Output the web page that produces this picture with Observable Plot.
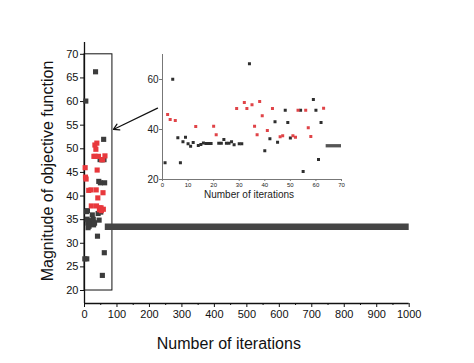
<!DOCTYPE html>
<html>
<head>
<meta charset="utf-8">
<script src="https://cdn.jsdelivr.net/npm/d3@7"></script>
<script src="https://cdn.jsdelivr.net/npm/@observablehq/plot@0.6"></script>
<style>
  body { margin: 0; background: #fff; }
  #wrap { position: relative; width: 474px; height: 363px; font-family: "Liberation Sans", Arial, sans-serif; }
  #wrap svg { position: absolute; background: transparent; }
</style>
</head>
<body>
<div id="wrap"></div>
<script>
// Iterations 1..63 (early search phase), objective value and marker class
const iterations = [1,2,3,4,5,6,7,8,9,10,11,12,13,14,15,16,17,18,19,20,21,22,23,24,25,26,27,28,29,30,31,32,33,34,35,36,37,38,39,40,41,42,43,44,45,46,47,48,49,50,51,52,53,54,55,56,57,58,59,60,61,62,63];
const objective = [26.7,46.0,44.0,60.1,43.6,36.7,26.7,35.1,36.9,34.3,33.3,34.8,41.2,33.6,34.0,34.6,34.4,34.4,34.4,41.3,37.9,34.5,34.5,36.0,34.5,34.5,35.1,33.9,48.4,34.3,34.3,50.8,48.4,66.3,49.9,41.3,37.9,51.2,45.5,31.5,39.6,36.3,48.4,43.1,34.9,37.1,37.5,47.7,42.8,36.6,37.5,36.9,47.7,47.7,23.2,47.7,40.7,37.2,52.0,47.7,28.0,42.8,48.5];
const markerClass = ["d","r","r","d","r","d","d","d","d","d","d","d","r","d","d","d","d","d","d","r","r","d","d","d","d","d","d","d","r","d","d","r","r","d","r","r","r","r","r","d","r","d","r","d","d","r","r","d","d","d","r","r","r","d","d","r","r","r","d","d","d","d","r"];
// Converged phase: constant objective from iteration 64 to 1000
const convergedValue = 33.5;
const convergedFrom = 64;
const convergedTo = 1000;
// Zoom box and arrow annotation (data coordinates)
const zoomBox = [{x1: 0, x2: 86, y1: 20, y2: 70}];
const arrowLine = [{x1: 225, y1: 58.6, x2: 89, y2: 54.1}];
// Ticks
const mainYTicks = [20,25,30,35,40,45,50,55,60,65,70];
const mainXTicks = [0,100,200,300,400,500,600,700,800,900,1000];
const mainXMinor = [50,150,250,350,450,550,650,750,850,950];
const insetXTicks = [0,10,20,30,40,50,60,70];
const insetYTicks = [20,40,60];

const DARK = "#3c3c3c";
const RED = "#e8383c";
const FONT = "'Liberation Sans', Arial, sans-serif";

const pts = iterations.map((x, i) => ({x, y: objective[i], c: markerClass[i]}));
const dark = pts.filter(d => d.c === "d");
const red = pts.filter(d => d.c === "r");
const band = [{x1: convergedFrom, x2: convergedTo, y: convergedValue}];
const insetBand = [{x1: convergedFrom, x2: 70, y: convergedValue}];

const yMin = 17.25, yMax = 72.5;

const main = Plot.plot({
  width: 474, height: 363,
  marginLeft: 84, marginRight: 65.3, marginTop: 42, marginBottom: 60,
  style: {fontFamily: FONT, fontSize: "11px", color: "#111", background: "transparent"},
  x: {domain: [0, 1000]},
  y: {domain: [yMin, yMax]},
  marks: [
    Plot.ruleX([0], {y1: yMin, y2: yMax, stroke: "#111", strokeWidth: 1.3}),
    Plot.ruleY([yMin], {x1: 0, x2: 1000, stroke: "#111", strokeWidth: 1.3}),
    Plot.axisY(mainYTicks, {tickSize: 4, tickPadding: 2, fontSize: 11, label: null, stroke: "#111"}),
    Plot.axisX(mainXTicks, {tickSize: 4, tickPadding: 3, fontSize: 11, label: null, stroke: "#111", tickFormat: d => String(d)}),
    Plot.axisX(mainXMinor, {tickSize: 2, tickFormat: () => "", label: null, stroke: "#111"}),
    Plot.rect(zoomBox, {x1: "x1", x2: "x2", y1: "y1", y2: "y2", fill: "none", stroke: "#111", strokeWidth: 1}),
    Plot.ruleY(band, {x1: "x1", x2: "x2", y: "y", stroke: "#454545", strokeWidth: 6.3}),
    Plot.dot(dark, {x: "x", y: "y", symbol: "square", r: 2.9, fill: DARK, stroke: "none"}),
    Plot.dot(red, {x: "x", y: "y", symbol: "square", r: 2.9, fill: RED, stroke: "none"}),
    Plot.arrow(arrowLine, {x1: "x1", y1: "y1", x2: "x2", y2: "y2", stroke: "#111", strokeWidth: 1.2, headLength: 8, insetStart: 0, insetEnd: 0}),
    Plot.text(["Number of iterations"], {frameAnchor: "bottom", textAnchor: "middle", dx: -18, dy: 40, lineAnchor: "middle", fontSize: 16, fill: "#111"}),
    Plot.text(["Magnitude of objective function"], {frameAnchor: "left", textAnchor: "middle", dx: -37, dy: -2, rotate: -90, lineAnchor: "middle", fontSize: 16, fill: "#111"})
  ]
});
main.style.left = "0px";
main.style.top = "0px";

const inset = Plot.plot({
  width: 220, height: 170,
  marginLeft: 22, marginRight: 19, marginTop: 14, marginBottom: 31,
  style: {fontFamily: FONT, fontSize: "9.5px", color: "#222", background: "transparent"},
  x: {domain: [0, 70]},
  y: {domain: [20, 70]},
  marks: [
    Plot.ruleX([0], {y1: 20, y2: 70, stroke: "#777", strokeWidth: 1}),
    Plot.ruleY([20], {x1: 0, x2: 70, stroke: "#777", strokeWidth: 1}),
    Plot.axisY(insetYTicks, {tickSize: 3, tickPadding: 1, fontSize: 10, label: null, stroke: "#777"}),
    Plot.axisX(insetXTicks, {tickSize: 2, tickPadding: 1, fontSize: 6, label: null, stroke: "#777"}),
    Plot.ruleY(insetBand, {x1: "x1", x2: "x2", y: "y", stroke: "#555", strokeWidth: 3.3}),
    Plot.dot(dark, {x: "x", y: "y", symbol: "square", r: 1.7, fill: "#2e2e2e", stroke: "none"}),
    Plot.dot(red, {x: "x", y: "y", symbol: "square", r: 1.7, fill: "#e04448", stroke: "none"}),
    Plot.text(["Number of iterations"], {frameAnchor: "bottom", dx: -3, dy: 15, lineAnchor: "middle", fontSize: 10, fill: "#222"})
  ]
});
inset.style.left = "140px";
inset.style.top = "40px";

const wrap = document.getElementById("wrap");
wrap.appendChild(main);
wrap.appendChild(inset);
</script>
</body>
</html>
